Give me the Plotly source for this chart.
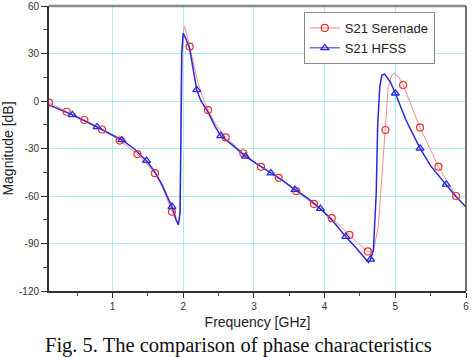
import plotly.graph_objects as go

# ---- data ----
ser_x = [0.1, 0.35, 0.6, 0.85, 1.1, 1.35, 1.45, 1.6, 1.7, 1.78, 1.84, 1.9, 1.93, 1.95, 1.96, 1.97,
         2.0, 2.02, 2.05, 2.09, 2.15, 2.2, 2.27, 2.35, 2.45, 2.6, 2.85, 3.1, 3.35, 3.6, 3.85, 4.1,
         4.35, 4.5, 4.61, 4.69, 4.76, 4.81, 4.86, 4.9, 4.95, 4.99, 5.05, 5.11, 5.2, 5.35, 5.5, 5.61,
         5.75, 5.86, 6.0]
ser_y = [-1, -6.8, -12, -18, -25, -33.5, -38, -45.6, -54, -63, -70, -76, -78, -74, -40, 32,
         44, 47, 42, 34.3, 22, 13, 3, -5.7, -14, -23, -33, -41.6, -48.5, -57, -65, -74,
         -84.6, -91, -95, -95, -79, -48, -18.3, 9, 16.4, 17.5, 15, 10.1, 0, -16.8, -31, -41.5,
         -52, -60, -67]

ser_mx = [0.1, 0.35, 0.6, 0.85, 1.1, 1.35, 1.6, 1.84, 2.09, 2.35, 2.6, 2.85, 3.1, 3.35, 3.6, 3.85,
          4.1, 4.35, 4.61, 4.86, 5.11, 5.35, 5.61, 5.86]
ser_my = [-1, -6.8, -12, -18, -25, -33.5, -45.6, -70, 34.3, -5.7, -23, -33, -41.6, -48.5, -57, -65,
          -74, -84.6, -95, -18.3, 10.1, -16.8, -41.5, -60]

hfss_x = [0.1, 0.43, 0.78, 1.13, 1.3, 1.48, 1.6, 1.7, 1.78, 1.84, 1.9, 1.93, 1.955, 1.97, 1.98,
          2.0, 2.04, 2.09, 2.14, 2.19, 2.25, 2.35, 2.45, 2.53, 2.7, 2.88, 3.05, 3.24, 3.4, 3.58,
          3.75, 3.94, 4.1, 4.3, 4.45, 4.62, 4.65, 4.69, 4.73, 4.75, 4.78, 4.81, 4.85, 4.93, 5.0,
          5.15, 5.35, 5.5, 5.72, 5.85, 6.0]
hfss_y = [-2.5, -8.8, -16.4, -24.6, -30, -37.7, -45, -53, -61, -66.7, -75, -78.3, -70, -20, 30,
          42.8, 39, 33, 20, 7, 0, -7, -16, -22, -28, -35, -40, -45.5, -50, -56,
          -61, -68, -75, -85.7, -93, -102, -100, -94, -58, -16, 9, 16.4, 17, 12, 4.9,
          -12, -29.9, -41, -52.7, -60, -67]

hfss_mx = [0.43, 0.78, 1.13, 1.48, 1.84, 2.19, 2.53, 2.88, 3.24, 3.58, 3.94, 4.3, 4.65, 5.0, 5.35, 5.72]
hfss_my = [-8.8, -16.4, -24.6, -37.7, -66.7, 7, -22, -35, -45.5, -56, -68, -85.7, -100, 4.9, -29.9, -52.7]

x_ticks = [1, 2, 3, 4, 5, 6]
y_ticks = [-120, -90, -60, -30, 0, 30, 60]

RED_LINE = "#f28a8a"
RED_MK = "#e8302c"
BLUE = "#2a2ad8"

fig = go.Figure()
fig.add_trace(go.Scatter(x=ser_x, y=ser_y, mode="lines", line=dict(color=RED_LINE, width=1),
                         showlegend=False, hoverinfo="skip"))
fig.add_trace(go.Scatter(x=hfss_x, y=hfss_y, mode="lines", line=dict(color=BLUE, width=1.5),
                         showlegend=False, hoverinfo="skip"))
fig.add_trace(go.Scatter(x=ser_mx, y=ser_my, mode="markers",
                         marker=dict(symbol="circle-open", size=7, color=RED_MK, line=dict(width=1.2)),
                         showlegend=False))
fig.add_trace(go.Scatter(x=hfss_mx, y=hfss_my, mode="markers",
                         marker=dict(symbol="triangle-up-open", size=7, color=BLUE, line=dict(width=1.3)),
                         showlegend=False))
# legend entries
fig.add_trace(go.Scatter(x=[None], y=[None], mode="lines+markers", name="S21 Serenade",
                         line=dict(color=RED_LINE, width=1),
                         marker=dict(symbol="circle-open", size=7, color=RED_MK, line=dict(width=1.2))))
fig.add_trace(go.Scatter(x=[None], y=[None], mode="lines+markers", name="S21 HFSS",
                         line=dict(color=BLUE, width=1),
                         marker=dict(symbol="triangle-up-open", size=7, color=BLUE, line=dict(width=1.2))))

GRID = "#a6eef2"
fig.update_layout(
    width=474, height=357,
    margin=dict(l=49, r=8, t=6, b=66, autoexpand=False),
    paper_bgcolor="white", plot_bgcolor="white",
    font=dict(family="Liberation Sans, Arial, sans-serif", color="#222"),
    showlegend=True,
    legend=dict(x=0.611, y=0.979, xanchor="left", yanchor="top",
                bgcolor="white", bordercolor="#888", borderwidth=1,
                font=dict(size=13, color="#222"), tracegroupgap=0),
    xaxis=dict(range=[0.1, 6.0], tickvals=x_ticks, ticktext=[str(v) for v in x_ticks],
               automargin=False,
               showgrid=True, gridcolor=GRID, gridwidth=1,
               showline=True, linecolor="#333", linewidth=2,
               ticks="outside", ticklen=5, tickcolor="#333",
               minor=dict(dtick=0.5, tick0=0, ticks="outside", ticklen=3, tickcolor="#555", showgrid=False),
               tickfont=dict(size=10, color="#333"), zeroline=False,
               title=dict(text="Frequency [GHz]", font=dict(size=14, color="#222"), standoff=6)),
    yaxis=dict(range=[-120, 60], tickvals=y_ticks, ticktext=[str(v) for v in y_ticks],
               automargin=False,
               showgrid=True, gridcolor=GRID, gridwidth=1,
               showline=True, linecolor="#333", linewidth=2,
               ticks="outside", ticklen=6, tickcolor="#333",
               minor=dict(dtick=15, tick0=0, ticks="outside", ticklen=4, tickcolor="#555", showgrid=False),
               tickfont=dict(size=10, color="#333"), zeroline=False,
               title=dict(text="Magnitude [dB]", font=dict(size=14, color="#222"), standoff=8)),
    shapes=[
        dict(type="line", xref="paper", yref="paper", x0=0, x1=1, y0=1, y1=1,
             line=dict(color="#8a8a8a", width=2.5)),
        dict(type="line", xref="paper", yref="paper", x0=1, x1=1, y0=0, y1=1,
             line=dict(color="#444", width=1.5)),
    ],
    annotations=[
        dict(text="Fig. 5. The comparison of phase characteristics", xref="paper", yref="paper",
             x=0.455, y=-0.19, xanchor="center", yanchor="middle", showarrow=False,
             font=dict(family="Liberation Serif, Times New Roman, serif", size=20.5, color="#111"))
    ],
)

fig.write_html("out.html", config={"displayModeBar": False},
               post_script="document.body.style.margin='0';document.body.style.overflow='hidden';")
